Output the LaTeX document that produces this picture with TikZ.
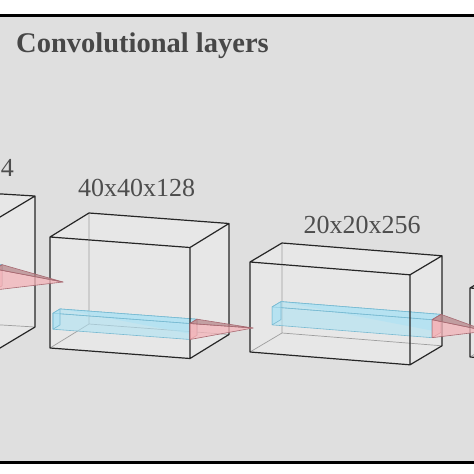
\documentclass[tikz,border=0pt]{standalone}
\usepackage{fontspec}
\setmainfont{Liberation Serif}
\usepackage{tikz}
\usetikzlibrary{calc}
\definecolor{bggray}{HTML}{DFDFDF}
\definecolor{labelgray}{HTML}{4D4D4D}
\definecolor{titlegray}{HTML}{474747}
\definecolor{barblue}{HTML}{AEE2F3}
\definecolor{baredge}{HTML}{78BAD2}
\definecolor{conepink}{HTML}{F4B4B9}
\definecolor{coneedge}{HTML}{A86A72}
\tikzset{
    hiddenedge/.style = {draw=black!38, line width=0.7pt},
    edge/.style = {draw=black!85, line width=1.2pt, line join=round},
    boxface/.style = {fill=white, fill opacity=0.25},
    barface/.style = {fill=barblue, fill opacity=0.6, draw=baredge, line width=0.6pt, line join=round},
    coneface/.style = {fill=conepink, fill opacity=0.75, draw=coneedge, line width=0.6pt, line join=round},
    conetop/.style = {coneface, fill=conepink!75!black},
    boxaxes/.style n args = {3}{x={(1pt,-#1pt)}, y={(0pt,-1pt)}, z={(#2pt,#3pt)}},
}
\tikzset{
    heading/.style = {font=\fontsize{28.5}{30}\selectfont\bfseries, text=titlegray, inner sep=0pt},
    dims/.style = {font=\fontsize{26}{28}\selectfont, text=labelgray, inner sep=0pt},
}
% box of a layer: faces and hidden edges, then visible edges
\newcommand\layerbox[2]{%
    \fill[boxface] (0,#2,0) -- (0,0,0) -- (0,0,1) -- (#1,0,1) -- (#1,#2,1) -- (#1,#2,0) -- cycle;
    \draw[hiddenedge] (0,0,1) -- (0,#2,1) -- (#1,#2,1) (0,#2,1) -- (0,#2,0);
}
\newcommand\layeredges[2]{%
    \draw[edge] (0,0,0) -- (#1,0,0) -- (#1,#2,0) -- (0,#2,0) -- cycle
                (0,0,0) -- (0,0,1) -- (#1,0,1) -- (#1,#2,1) -- (#1,#2,0)
                (#1,0,0) -- (#1,0,1);
}
% bar: name, u0, u1, v0, v1, z0, z1
\newcommand\layerbar[7]{%
    \filldraw[barface] (#2,#4,#7) -- (#3,#4,#7) -- (#3,#5,#7);
    \filldraw[barface] (#2,#4,#6) -- (#3,#4,#6) -- (#3,#5,#6) -- (#2,#5,#6) -- cycle;
    \filldraw[barface] (#2,#4,#6) -- (#3,#4,#6) -- (#3,#4,#7) -- (#2,#4,#7) -- cycle;
    \filldraw[barface] (#2,#4,#6) -- (#2,#4,#7) -- (#2,#5,#7) -- (#2,#5,#6) -- cycle;
    \coordinate (#1-ft) at (#3,#4,#6);
    \coordinate (#1-fb) at (#3,#5,#6);
    \coordinate (#1-bt) at (#3,#4,#7);
    \coordinate (#1-bb) at (#3,#5,#7);
}

\begin{document}
\begin{tikzpicture}[x=1pt, y=-1pt]
\useasboundingbox (0,0) rectangle (474,474);
\fill[white] (0,0) rectangle (474,474);
\fill[bggray] (0,16) rectangle (474,462);
\draw[line width=3pt] (0,15.5) -- (474,15.5);
\draw[line width=3pt] (0,462.5) -- (474,462.5);

\node[heading, anchor=base west] (title) at (16,52) {Convolutional layers};

\begin{scope}
\clip (0,17) rectangle (474,461);
% layer 1
\begin{scope}[shift={(-155,211)}, boxaxes={0.06}{40}{24}]
    \layerbox{150}{131}
    \layerbar{bar1}{4}{150}{49}{70}{0}{0.18}
    \layeredges{150}{131}
\end{scope}
% layer 2
\begin{scope}[shift={(50,237)}, boxaxes={0.075}{39}{24}]
    \layerbox{140}{111}
    \layerbar{bar2}{3}{140}{76}{92}{0}{0.18}
    \layeredges{140}{111}
\end{scope}
% layer 3
\begin{scope}[shift={(250,262)}, boxaxes={0.08}{32}{19}]
    \layerbox{160}{90}
    \layerbar{bar3}{0}{160}{58}{76}{0.69}{0.97}
    \layeredges{160}{90}
\end{scope}
% layer 4
\begin{scope}[shift={(470,288)}, boxaxes={0.08}{25}{15}]
    \layerbox{100}{69}
    \layeredges{100}{69}
\end{scope}

\coordinate (tip1) at (63,282);
\coordinate (tip2) at (253,328);
\coordinate (tip3) at (487,331);
\foreach \i in {1,2,3} {
    \filldraw[coneface] (bar\i-ft) -- (bar\i-bt) -- (bar\i-bb) -- (bar\i-fb) -- cycle;
    \filldraw[coneface] (bar\i-ft) -- (bar\i-fb) -- (tip\i) -- cycle;
    \filldraw[conetop] (bar\i-ft) -- (bar\i-bt) -- (tip\i) -- cycle;
}
\end{scope}

\node[dims, anchor=base east] (dim1) at (14,176) {4};
\node[dims, anchor=base] (dim2) at (136.5,196) {40x40x128};
\node[dims, anchor=base] (dim3) at (362,233) {20x20x256};
\end{tikzpicture}
\end{document}
